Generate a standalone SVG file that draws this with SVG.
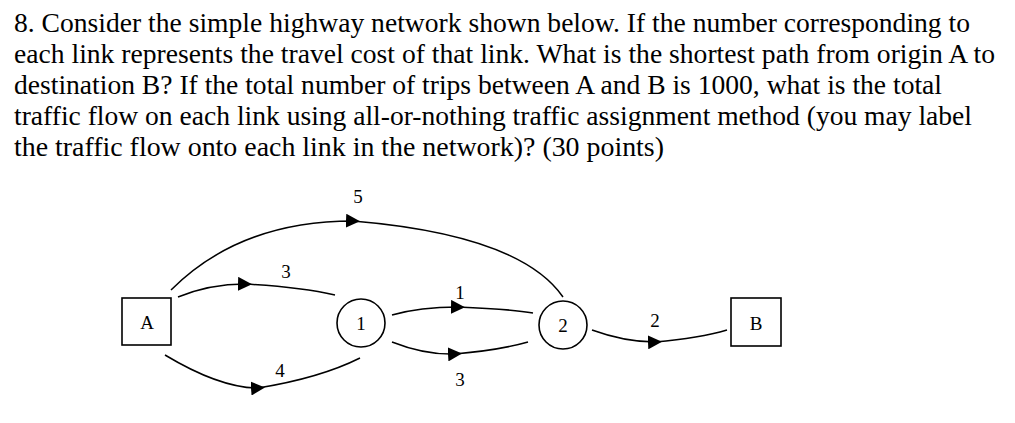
<svg xmlns="http://www.w3.org/2000/svg" width="1015" height="423" viewBox="0 0 1015 423">
<style>
.q{font-family:"Liberation Serif",serif;font-size:27px;fill:#000}
.l{font-family:"Liberation Serif",serif;font-size:19px;fill:#000;text-anchor:middle}
.n{fill:#fff;stroke:#000;stroke-width:1.6}
.c{fill:none;stroke:#000;stroke-width:1.5}
</style>
<defs><marker id="ar" viewBox="0 0 10 10" refX="5" refY="5" markerWidth="14" markerHeight="14" markerUnits="userSpaceOnUse" orient="auto"><path d="M0,0L10,5L0,10z"/></marker></defs>
<rect width="1015" height="423" fill="#fff"/>
<text class="q" x="14" y="32" textLength="956" lengthAdjust="spacingAndGlyphs">8. Consider the simple highway network shown below. If the number corresponding to</text>
<text class="q" x="14" y="63" textLength="981" lengthAdjust="spacingAndGlyphs">each link represents the travel cost of that link. What is the shortest path from origin A to</text>
<text class="q" x="14" y="94" textLength="928" lengthAdjust="spacingAndGlyphs">destination B? If the total number of trips between A and B is 1000, what is the total</text>
<text class="q" x="14" y="125" textLength="958" lengthAdjust="spacingAndGlyphs">traffic flow on each link using all-or-nothing traffic assignment method (you may label</text>
<text class="q" x="14" y="156" textLength="650" lengthAdjust="spacingAndGlyphs">the traffic flow onto each link in the network)? (30 points)</text>
<g id="connectors">
<path class="c" marker-mid="url(#ar)" d="M171,290 Q240,221 353,221 Q520,235 563,297"/>
<path class="c" marker-mid="url(#ar)" d="M178,297 Q210,284 245,284 Q300,287 335,295"/>
<path class="c" marker-mid="url(#ar)" d="M165,355 Q220,388 258,388 Q320,378 360,358"/>
<path class="c" marker-mid="url(#ar)" d="M392,315 Q420,307 458,307 Q510,309 533,313"/>
<path class="c" marker-mid="url(#ar)" d="M392,342 Q425,355 455,354 Q500,350 528,342"/>
<path class="c" marker-mid="url(#ar)" d="M592,330 Q625,342 655,342 Q700,338 727,330"/>
<text class="l" x="358" y="203">5</text>
<text class="l" x="286" y="278">3</text>
<text class="l" x="280" y="377">4</text>
<text class="l" x="460" y="299">1</text>
<text class="l" x="460" y="386">3</text>
<text class="l" x="655" y="327">2</text>
</g>
<g id="A"><rect class="n" x="122" y="298" width="49" height="47"/><text class="l" x="147" y="329">A</text></g>
<g id="n1"><circle class="n" cx="361" cy="323" r="24"/><text class="l" x="361" y="330">1</text></g>
<g id="n2"><circle class="n" cx="563" cy="325" r="24"/><text class="l" x="563" y="332">2</text></g>
<g id="B"><rect class="n" x="731" y="298" width="50" height="48"/><text class="l" x="756" y="330">B</text></g>
</svg>
